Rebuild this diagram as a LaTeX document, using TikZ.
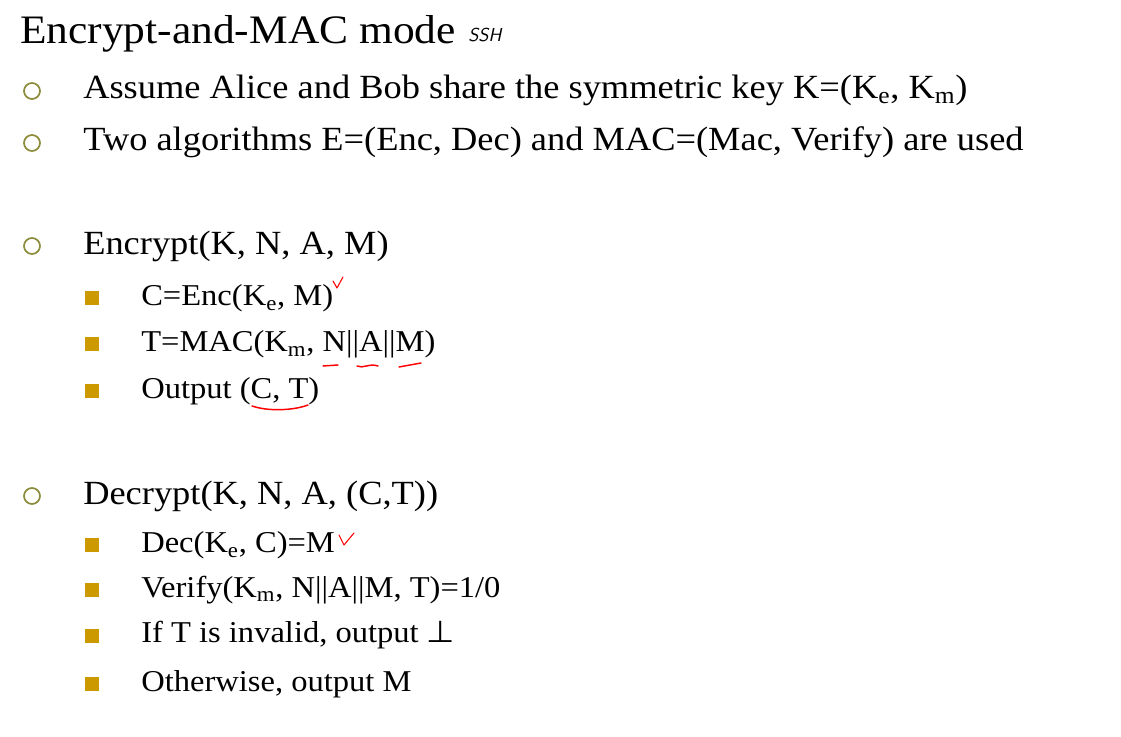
\documentclass[tikz,border=0pt]{standalone}
\usepackage{fontspec}
\setmainfont{Liberation Serif}
\newfontfamily\dvs{DejaVu Sans}
\definecolor{olivebul}{HTML}{8C8C3C}
\definecolor{goldbul}{HTML}{CC9900}
\begin{document}
\begin{tikzpicture}[x=0.75pt,y=-0.75pt]
\tikzset{
 txt/.style={anchor=base west,inner sep=0,xscale=1.075,transform shape},
 title/.style={txt,font=\fontsize{30.3}{31}\selectfont},
 lvlone/.style={txt,font=\fontsize{25.4}{26}\selectfont},
 lvltwo/.style={txt,font=\fontsize{22.7}{23}\selectfont},
 circbul/.style={draw=olivebul,line width=1.3pt,circle,minimum size=12pt,inner sep=0},
 sqbul/.style={fill=goldbul,minimum size=10pt,inner sep=0},
 ink/.style={red,line width=1.1pt,line cap=round,line join=round}
}
\useasboundingbox (0,0) rectangle (1121,737);
\node[title] (t) at (20,44) {Encrypt-and-MAC mode};
\node[anchor=base west,inner sep=0,font=\fontsize{14}{14}\selectfont\sffamily\itshape] (ssh) at (468,42) {SSH};
\node[circbul] (b1) at (32,91) {};
\node[lvlone] (l1) at (83,99) {Assume Alice and Bob share the symmetric key K=(K\textsubscript{e}, K\textsubscript{m})};
\node[circbul] (b2) at (32,143) {};
\node[lvlone] (l2) at (83,151) {Two algorithms E=(Enc, Dec) and MAC=(Mac, Verify) are used};
\node[circbul] (b3) at (32,246) {};
\node[lvlone] (l3) at (83,255) {Encrypt(K, N, A, M)};
\node[sqbul] (s1) at (92,298) {};
\node[lvltwo] (e1) at (141,306) {C=Enc(K\textsubscript{e}, M)};
\node[sqbul] (s2) at (92,344) {};
\node[lvltwo] (e2) at (141,352) {T=MAC(K\textsubscript{m}, N||A||M)};
\node[sqbul] (s3) at (92,391) {};
\node[lvltwo] (e3) at (141,399) {Output (C, T)};
\node[circbul] (b4) at (32,496) {};
\node[lvlone] (l4) at (83,505) {Decrypt(K, N, A, (C,T))};
\node[sqbul] (s4) at (92,545) {};
\node[lvltwo] (d1) at (141,553) {Dec(K\textsubscript{e}, C)=M};
\node[sqbul] (s5) at (92,590) {};
\node[lvltwo] (d2) at (141,597) {Verify(K\textsubscript{m}, N||A||M, T)=1/0};
\node[sqbul] (s6) at (92,636) {};
\node[lvltwo] (d3) at (141,642) {If T is invalid, output {\dvs ⊥}};
\node[sqbul] (s7) at (92,684) {};
\node[lvltwo] (d4) at (141,691) {Otherwise, output M};
% annotations
\draw[ink,line width=0.8pt] (333,281) -- (337,288) -- (343,277);
\draw[ink] (323,366) -- (338,365);
\draw[ink] (357,366) .. controls (363,369) and (369,363) .. (378,366);
\draw[ink] (399,367) -- (421,363);
\draw[ink] (252,406) .. controls (270,412) and (295,410) .. (308,405);
\draw[ink,line width=0.8pt] (339,535) -- (344,545) -- (354,533);
\end{tikzpicture}
\end{document}
